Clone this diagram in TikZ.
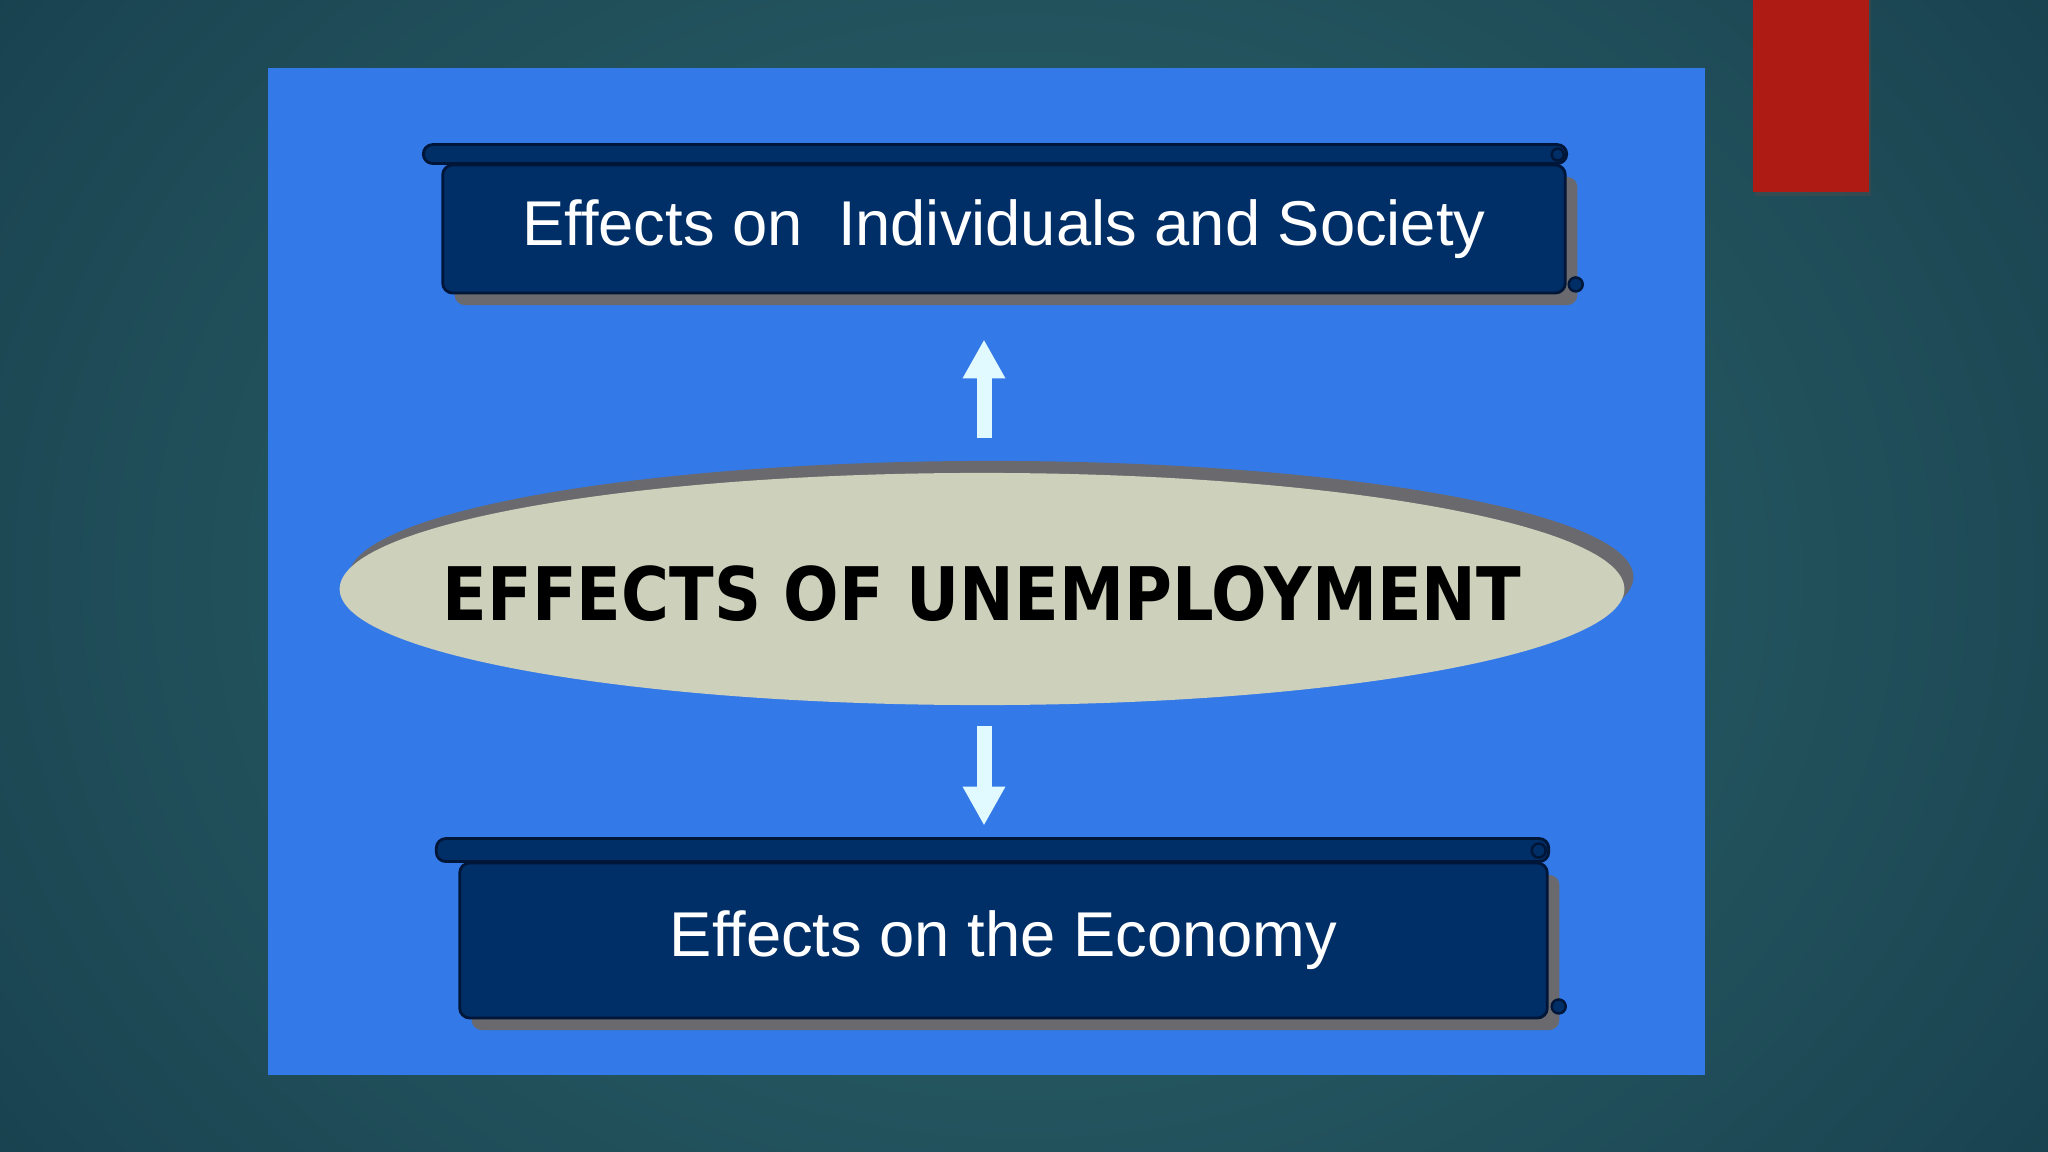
\documentclass[tikz,border=0pt]{standalone}
\usepackage{fontspec}
\setmainfont{Liberation Sans}
\newfontfamily\verd{DejaVu Sans}
\usetikzlibrary{arrows.meta,shapes.geometric,shadows,calc}
\definecolor{bgin}{RGB}{46,104,110}
\definecolor{bgout}{RGB}{24,64,78}
\definecolor{panel}{RGB}{52,121,232}
\definecolor{navy}{RGB}{0,46,102}
\definecolor{navyline}{RGB}{0,22,56}
\definecolor{shadowgray}{RGB}{106,106,110}
\definecolor{ellfill}{RGB}{205,208,186}
\definecolor{arrowc}{RGB}{225,250,255}
\definecolor{redbar}{RGB}{174,26,20}
\begin{document}
\begin{tikzpicture}[x=0.01cm,y=-0.01cm,
  scrollbody/.style={draw=navyline, fill=navy, line width=0.8pt, rounded corners=0.1cm,
    text=white, font=\fontsize{18pt}{21pt}\selectfont, inner sep=0pt,
    drop shadow={shadow xshift=0.12cm, shadow yshift=-0.12cm, fill=shadowgray, opacity=1}},
  scrollbar/.style={draw=navyline, fill=navy, line width=0.8pt, rounded corners=0.095cm},
  curl/.style={draw=navyline, fill=navy, line width=0.7pt},
  bigarrow/.style={draw=arrowc, line width=0.15cm, -{Triangle[length=0.39cm, width=0.40cm]}},
  ellnode/.style={ellipse, fill=ellfill, inner sep=0pt,
    drop shadow={shadow xshift=0.09cm, shadow yshift=0.12cm, fill=shadowgray, opacity=1}}
]
\useasboundingbox (0,0) rectangle (2048,1152);
\fill[bgout] (0,0) rectangle (2048,1152);
\shade[inner color=bgin, outer color=bgout] (-300,-500) rectangle (2348,1652);
% red bar
\fill[black!70, opacity=0.5] (1755,0) rectangle (1871,196);
\fill[redbar] (1753,0) rectangle (1869,192);
% blue panel
\fill[panel] (268,68) rectangle (1705,1075);

% top scroll
\node[scrollbody, minimum width=11.22cm, minimum height=1.28cm] (top) at (1004,229)
  {Effects on\ \ Individuals and Society};
\draw[scrollbar] ($(top.north west)+(-18,-19)$) rectangle (top.north east);
\draw[curl] ($(top.north east)+(-9,-9)$) circle (6);
\draw[curl] ($(top.south east)+(9,-10)$) circle (7);

% bottom scroll
\node[scrollbody, minimum width=10.87cm, minimum height=1.55cm] (bot) at (1003.5,940.5)
  {Effects on the Economy};
\draw[scrollbar] ($(bot.north west)+(-22,-23)$) rectangle (bot.north east);
\draw[curl] ($(bot.north east)+(-10,-11)$) circle (7);
\draw[curl] ($(bot.south east)+(10,-13)$) circle (7);

% ellipse
\node[ellnode, minimum width=12.84cm, minimum height=2.32cm] (ell) at (982,589) {};
\node[inner sep=0pt] (ellt) at (982,594)
  {\scalebox{0.885}[1]{\verd\bfseries\fontsize{21pt}{24pt}\selectfont EFFECTS OF UNEMPLOYMENT}};

% arrows
\draw[bigarrow, shorten <=0.34cm, shorten >=0.45cm] ([xshift=0.02cm]ell.north) -- ([xshift=0.02cm]ell.north |- top.south);
\draw[bigarrow, shorten <=0.20cm, shorten >=0.36cm] ([xshift=0.02cm]ell.south) -- ([xshift=0.02cm]ell.south |- bot.north);
\end{tikzpicture}
\end{document}
